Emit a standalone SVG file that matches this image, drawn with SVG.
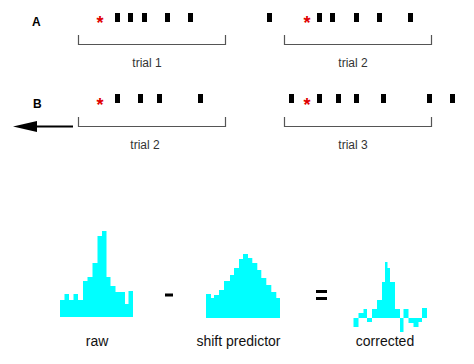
<svg xmlns="http://www.w3.org/2000/svg" width="474" height="364" viewBox="0 0 474 364">
<style>
.lbl{font-family:"Liberation Sans",Arial,sans-serif;font-weight:bold;font-size:12px;fill:#000}
.trial{font-family:"Liberation Sans",Arial,sans-serif;font-size:12px;fill:#333;text-anchor:middle}
.cap{font-family:"Liberation Sans",Arial,sans-serif;font-size:14px;fill:#111;text-anchor:middle}
.star{font-family:"Liberation Sans",Arial,sans-serif;font-weight:bold;font-size:18px;fill:#e00000;text-anchor:middle}
.brk{fill:none;stroke:#555;stroke-width:1.2}
.spk{fill:#000}
.hist{fill:#00ffff}
</style>
<defs>
<rect id="sa" width="5" height="9" class="spk"/>
</defs>
<rect width="474" height="364" fill="#fff"/>

<g id="rowA">
<text class="lbl" x="32" y="26">A</text>
<g id="trialA1">
<text class="star" x="100" y="29">*</text>
<use href="#sa" x="115" y="13"/><use href="#sa" x="128" y="13"/><use href="#sa" x="142" y="13"/><use href="#sa" x="165" y="13"/><use href="#sa" x="188" y="13"/>
<polyline class="brk" points="78.5,35 78.5,44.5 225.5,44.5 225.5,35"/>
<text class="trial" x="147" y="67">trial 1</text>
</g>
<g id="trialA2">
<use href="#sa" x="267" y="13"/>
<text class="star" x="307" y="29">*</text>
<use href="#sa" x="317" y="13"/><use href="#sa" x="330" y="13"/><use href="#sa" x="354" y="13"/><use href="#sa" x="377" y="13"/><use href="#sa" x="408" y="13"/>
<polyline class="brk" points="284.5,35 284.5,44.5 431.5,44.5 431.5,35"/>
<text class="trial" x="353" y="67">trial 2</text>
</g>
</g>

<g id="rowB">
<text class="lbl" x="33" y="108">B</text>
<g id="trialB2">
<text class="star" x="100" y="111">*</text>
<use href="#sa" x="115" y="94"/><use href="#sa" x="138" y="94"/><use href="#sa" x="157" y="94"/><use href="#sa" x="198" y="94"/>
<polyline class="brk" points="78.5,117 78.5,126.5 225.5,126.5 225.5,117"/>
<text class="trial" x="145" y="149">trial 2</text>
</g>
<g id="trialB3">
<use href="#sa" x="289" y="94"/>
<text class="star" x="307" y="111">*</text>
<use href="#sa" x="317" y="94"/><use href="#sa" x="336" y="94"/><use href="#sa" x="354" y="94"/><use href="#sa" x="381" y="94"/><use href="#sa" x="427" y="94"/><use href="#sa" x="450" y="94"/>
<polyline class="brk" points="284.5,117 284.5,126.5 431.5,126.5 431.5,117"/>
<text class="trial" x="353" y="149">trial 3</text>
</g>
</g>

<g id="connectors">
<line x1="73" y1="126.5" x2="34" y2="126.5" stroke="#000" stroke-width="2"/>
<polygon points="13,126.5 37,121 37,132" fill="#000"/>
</g>

<g id="raw">
<path class="hist" d="M60,317 V300 H64.5 V294 H69 V300 H73.5 V294 H78 V300 H83 V281 H87.5 V277 H92.5 V263 H97.5 V236 H102 V231 H106.5 V277 H110.5 V286 H115.5 V292 H125 V304 H128.5 V291 H133 V317 Z"/>
<text class="cap" x="97" y="346">raw</text>
</g>

<g id="minus">
<rect x="165" y="293.5" width="8" height="3" fill="#000"/>
</g>

<g id="shift">
<path class="hist" d="M206,318 V294 H211 V298 H214 V295 H219 V290 H224 V281 H230 V275 H234 V268 H239 V259 H243 V254 H248 V258 H252.3 V263 H257.3 V270 H261.3 V278 H266.3 V285 H271.3 V292 H276.3 V298 H280 V318 Z"/>
<text class="cap" x="238.5" y="346">shift predictor</text>
</g>

<g id="equals">
<rect x="316" y="290" width="11" height="3" fill="#000"/>
<rect x="316" y="297" width="11" height="3" fill="#000"/>
</g>

<g id="corrected">
<path class="hist" d="M353.5,318 V327 H358.5 V318 Z M358.5,318 V313 H363.5 V309 H367 V318 Z M367,318 H372 V322 H367 Z M372,318 V309 H377 V300 H382 V282 H385 V262 H387.5 V268 H390 V282 H395 V309 H400 V318 Z M400,318 H403.5 V332 H400 Z M403.5,318 V309 H408.5 V318 Z M408.5,318 H418.5 V327 H413.5 V323 H408.5 Z M418.5,318 H422 V322 H418.5 Z M422,318 V308 H427 V318 Z"/>
<text class="cap" x="385" y="346">corrected</text>
</g>
</svg>
